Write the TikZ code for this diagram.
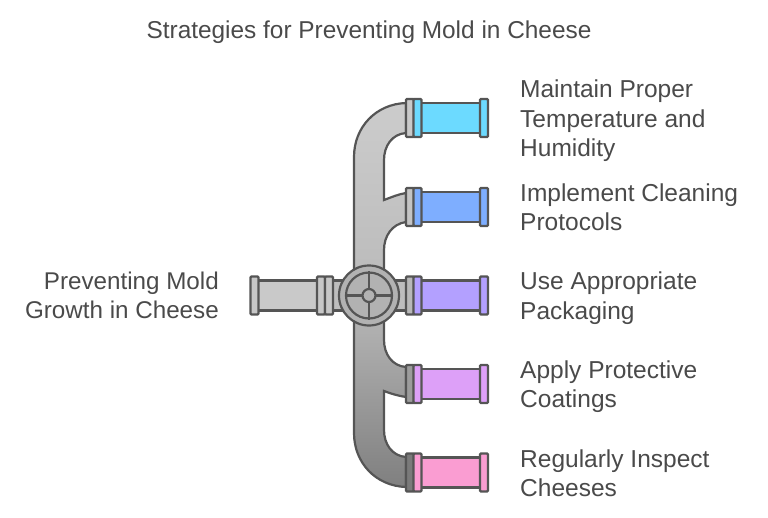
\documentclass[tikz,border=0pt]{standalone}
\usepackage{fontspec}
\setmainfont{Liberation Sans}
\usepackage{tikz}
\usetikzlibrary{positioning}

\definecolor{pipeline}{HTML}{555555}
\definecolor{labeltext}{HTML}{4A4A4A}
\definecolor{pipecyan}{HTML}{6CDAFF}
\definecolor{pipeblue}{HTML}{7EAEFF}
\definecolor{pipeviolet}{HTML}{B3A0FF}
\definecolor{pipelilac}{HTML}{DDA0F8}
\definecolor{pipepink}{HTML}{FA9DD2}

\begin{document}
\begin{tikzpicture}[
x=1pt,y=-1pt,
pipebody/.style={rectangle, draw=pipeline, line width=2.2pt, minimum width=60pt, minimum height=30pt, inner sep=0pt},
flangeend/.style={rectangle, draw=pipeline, line width=2.2pt, rounded corners=1pt, minimum width=8pt, minimum height=38pt, inner sep=0pt},
manifold/.style={draw=pipeline, line width=2.2pt, top color=black!20, bottom color=black!50, middle color=black!27},
wheel/.style={circle, draw=pipeline, line width=2.2pt, fill=black!30, inner sep=0pt},
titletext/.style={text=labeltext, inner sep=0pt, font=\fontsize{24.4}{29}\selectfont},
sidetext/.style={text=labeltext, inner sep=0pt, font=\fontsize{24.5}{29.5}\selectfont, align=left, anchor=west}
]
\useasboundingbox (0,0) rectangle (768,517);

%Main pipe
\draw[manifold] (406,103) .. controls (376,104) and (354,127) .. (354,157)
  -- (354,433) .. controls (354,463) and (376,486) .. (406,487)
  -- (406,457) .. controls (392,456) and (384,444) .. (384,430)
  -- (384,391) .. controls (392,394) and (399,396) .. (406,397)
  -- (406,367) .. controls (392,366) and (384,354) .. (384,340)
  -- (384,250) .. controls (384,236) and (392,224) .. (406,222)
  -- (406,193) .. controls (399,194) and (392,197) .. (384,200)
  -- (384,160) .. controls (384,146) and (392,134) .. (406,133) -- cycle;

%Pipes
\node[pipebody,fill=pipecyan] at (450.5,118) (PIPE-1) {};
\node[pipebody,fill=pipeblue] at (450.5,207) (PIPE-2) {};
\node[pipebody,fill=pipeviolet] at (450.5,295.5) (PIPE-3) {};
\node[pipebody,fill=pipelilac] at (450.5,384) (PIPE-4) {};
\node[pipebody,fill=pipepink] at (450.5,472.5) (PIPE-5) {};
\node[pipebody,fill=black!21] at (288,295.5) (PIPE-IN) {};
\node[pipebody,fill=black!26,minimum width=90pt] at (369,295.5) (PIPE-MID) {};

%Flanges
\node[flangeend,fill=black!21] at (410,118) (GRAY-1) {};
\node[flangeend,fill=pipecyan] at (417.5,118) (COLLAR-1) {};
\node[flangeend,fill=pipecyan] at (484,118) (END-1) {};
\node[flangeend,fill=black!23] at (410,207) (GRAY-2) {};
\node[flangeend,fill=pipeblue] at (417.5,207) (COLLAR-2) {};
\node[flangeend,fill=pipeblue] at (484,207) (END-2) {};
\node[flangeend,fill=black!28] at (410,295.5) (GRAY-3) {};
\node[flangeend,fill=pipeviolet] at (417.5,295.5) (COLLAR-3) {};
\node[flangeend,fill=pipeviolet] at (484,295.5) (END-3) {};
\node[flangeend,fill=black!39] at (410,384) (GRAY-4) {};
\node[flangeend,fill=pipelilac] at (417.5,384) (COLLAR-4) {};
\node[flangeend,fill=pipelilac] at (484,384) (END-4) {};
\node[flangeend,fill=black!52] at (410,472.5) (GRAY-5) {};
\node[flangeend,fill=pipepink] at (417.5,472.5) (COLLAR-5) {};
\node[flangeend,fill=pipepink] at (484,472.5) (END-5) {};
\node[flangeend,fill=black!22] at (254.5,295.5) (END-IN) {};
\node[flangeend,fill=black!22] at (321,295.5) (GRAY-IN-1) {};
\node[flangeend,fill=black!22] at (329,295.5) (GRAY-IN-2) {};

%Valve
\node[wheel,minimum size=60pt] at (369,295.5) (WHEEL) {};
\node[wheel,minimum size=46pt] at (WHEEL.center) (RING) {};
\draw[draw=pipeline,line width=2.2pt] (RING.north) -- (RING.south);
\draw[draw=pipeline,line width=2.2pt] (RING.west) -- (RING.east);
\node[wheel,minimum size=13pt] at (WHEEL.center) (HUB) {};

%Labels
\node[titletext] at (369,32) (TITLE) {Strategies for Preventing Mold in Cheese};
\node[sidetext,font=\fontsize{24.2}{29.5}\selectfont,align=right,anchor=east] at (219,295.5) (LABEL-IN) {Preventing Mold\\Growth in Cheese};
\node[sidetext] at (520,121) (LABEL-1) {Maintain Proper\\Temperature and\\Humidity};
\node[sidetext] at (520,207) (LABEL-2) {Implement Cleaning\\Protocols};
\node[sidetext] at (520,298) (LABEL-3) {Use Appropriate\\Packaging};
\node[sidetext] at (520,386.5) (LABEL-4) {Apply Protective\\Coatings};
\node[sidetext] at (520,473) (LABEL-5) {Regularly Inspect\\Cheeses};
\end{tikzpicture}
\end{document}
